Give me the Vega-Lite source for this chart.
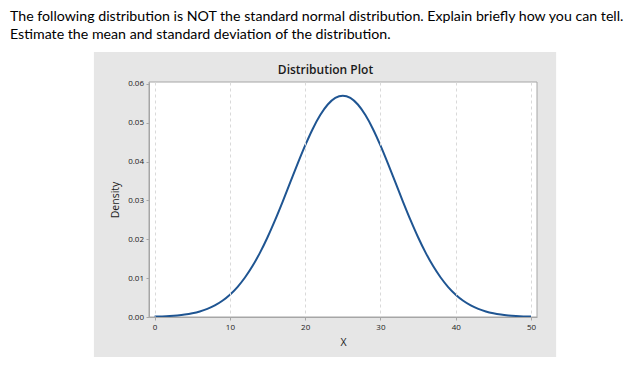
{
  "$schema": "https://vega.github.io/schema/vega-lite/v6.json",
  "width": 388,
  "height": 235,
  "autosize": {"type": "none"},
  "padding": {"left": 149, "top": 82, "right": 90, "bottom": 65},
  "background": "white",
  "config": {"font": "Open Sans", "view": {"stroke": null}, "axis": {"zindex": 1, "labelOverlap": false}},
  "title": {
    "text": ["The following distribution is NOT the standard normal distribution. Explain briefly how you can tell.", "Estimate the mean and standard deviation of the distribution."],
    "anchor": "start",
    "frame": "group",
    "dx": -139,
    "font": "Lato",
    "fontSize": 14.2,
    "fontWeight": "normal",
    "lineHeight": 18,
    "color": "#000000",
    "offset": 10
  },
  "resolve": {"axis": {"x": "independent", "y": "independent"}},
  "layer": [
    {
      "data": {"values": [{"panel": "outer"}]},
      "mark": {"type": "rect", "color": "#e6e6e6", "clip": false},
      "encoding": {
        "x": {"datum": -8.07, "type": "quantitative", "axis": null},
        "x2": {"datum": 53.34},
        "y": {"datum": 0.0682, "type": "quantitative", "axis": null},
        "y2": {"datum": -0.0103}
      }
    },
    {
      "data": {"values": [{"panel": "inner"}]},
      "mark": {"type": "rect", "fill": "white", "stroke": "#a6a6a6", "strokeWidth": 1, "clip": false},
      "encoding": {
        "x": {"datum": -0.75, "type": "quantitative", "axis": {"orient": "top", "title": "Distribution Plot", "labels": false, "ticks": false, "domain": false, "grid": false, "titleX": 176, "titleY": -9, "titleBaseline": "alphabetic", "titleFontSize": 12, "titleFontWeight": 600, "titleColor": "#1a1a1a", "zindex": 1}},
        "x2": {"datum": 50.8},
        "y": {"datum": 0, "type": "quantitative", "axis": null},
        "y2": {"datum": 0.0605}
      }
    },
    {
      "data": {"values": [
        {"x": 0, "density": 0.00010}, {"x": 1, "density": 0.00016}, {"x": 2, "density": 0.00026}, {"x": 3, "density": 0.00041},
        {"x": 4, "density": 0.00063}, {"x": 5, "density": 0.00096}, {"x": 6, "density": 0.00143}, {"x": 7, "density": 0.00209},
        {"x": 8, "density": 0.00299}, {"x": 9, "density": 0.00418}, {"x": 10, "density": 0.00574}, {"x": 11, "density": 0.00771},
        {"x": 12, "density": 0.01016}, {"x": 13, "density": 0.01311}, {"x": 14, "density": 0.01658}, {"x": 15, "density": 0.02054},
        {"x": 16, "density": 0.02494}, {"x": 17, "density": 0.02966}, {"x": 18, "density": 0.03457}, {"x": 19, "density": 0.03947},
        {"x": 20, "density": 0.04416}, {"x": 21, "density": 0.04841}, {"x": 22, "density": 0.05199}, {"x": 23, "density": 0.05471},
        {"x": 24, "density": 0.05641}, {"x": 25, "density": 0.05699}, {"x": 26, "density": 0.05641}, {"x": 27, "density": 0.05471},
        {"x": 28, "density": 0.05199}, {"x": 29, "density": 0.04841}, {"x": 30, "density": 0.04416}, {"x": 31, "density": 0.03947},
        {"x": 32, "density": 0.03457}, {"x": 33, "density": 0.02966}, {"x": 34, "density": 0.02494}, {"x": 35, "density": 0.02054},
        {"x": 36, "density": 0.01658}, {"x": 37, "density": 0.01311}, {"x": 38, "density": 0.01016}, {"x": 39, "density": 0.00771},
        {"x": 40, "density": 0.00574}, {"x": 41, "density": 0.00418}, {"x": 42, "density": 0.00299}, {"x": 43, "density": 0.00209},
        {"x": 44, "density": 0.00143}, {"x": 45, "density": 0.00096}, {"x": 46, "density": 0.00063}, {"x": 47, "density": 0.00041},
        {"x": 48, "density": 0.00026}, {"x": 49, "density": 0.00016}, {"x": 50, "density": 0.00010}
      ]},
      "mark": {"type": "line", "color": "#1f5592", "strokeWidth": 2, "interpolate": "monotone", "clip": true},
      "encoding": {
        "x": {
          "field": "x", "type": "quantitative",
          "scale": {"domain": [-0.75, 50.8], "nice": false, "zero": false},
          "axis": {"orient": "bottom", "title": "X", "values": [0, 10, 20, 30, 40, 50], "labelFontSize": 8, "labelColor": "#1a1a1a", "tickSize": 3, "tickColor": "#a6a6a6", "domainColor": "#a6a6a6", "labelPadding": 3, "titleFontSize": 10.5, "titleFontWeight": "normal", "titleColor": "#1a1a1a", "titlePadding": 6, "grid": true, "gridColor": "#d9d9d9", "gridDash": [3, 3], "zindex": 1, "labelOverlap": false}
        },
        "y": {
          "field": "density", "type": "quantitative",
          "scale": {"domain": [0, 0.0605], "nice": false},
          "axis": {"orient": "left", "title": "Density", "values": [0, 0.01, 0.02, 0.03, 0.04, 0.05, 0.06], "format": ".2f", "labelFontSize": 8, "labelColor": "#1a1a1a", "tickSize": 3, "tickColor": "#a6a6a6", "domainColor": "#a6a6a6", "labelPadding": 2.5, "titleFontSize": 10.5, "titleFontWeight": "normal", "titleColor": "#1a1a1a", "titlePadding": 7, "grid": false, "zindex": 1, "labelOverlap": false}
        }
      }
    }
  ]
}
